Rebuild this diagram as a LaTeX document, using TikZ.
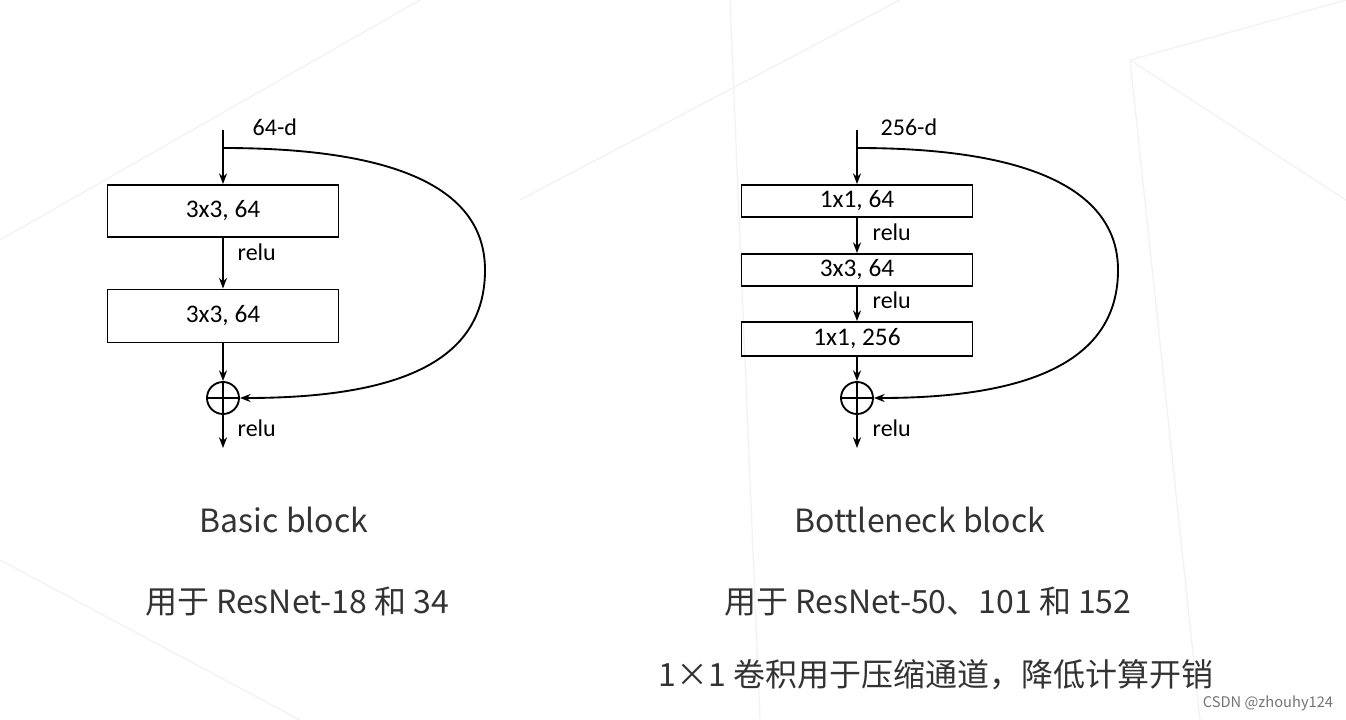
\documentclass[tikz,border=0pt]{standalone}
\usepackage{fontspec}
\setmainfont{Carlito}
\newfontfamily\cjk{Noto Sans CJK SC}
\usetikzlibrary{arrows.meta}
\begin{document}
\begin{tikzpicture}[x=0.75pt,y=-0.75pt,
 blk/.style={draw,line width=1.4pt,minimum width=231*0.75pt,inner sep=0pt,font=\fontsize{19}{22}\selectfont},
 arr/.style={-{Stealth[length=8pt,width=6pt]},line width=1.4pt},
 lbl/.style={font=\fontsize{18}{21}\selectfont,anchor=west},
 captxt/.style={font=\cjk\fontsize{24}{28}\selectfont,text=black!80}]
\useasboundingbox (0,0) rectangle (1346,720);
\draw[black!5,line width=1pt] (0,240)--(420,0) (520,200)--(900,0) (0,560)--(300,720) (1130,60)--(1346,200) (1130,60)--(1346,0) (1130,60)--(1200,720) (730,0)--(760,720);
% left
\coordinate (lt) at (223,130);
\coordinate (ls) at (223,148);
\node[blk,minimum height=52*0.75pt] (l1) at (223,211) {3x3, 64};
\node[blk,minimum height=53*0.75pt] (l2) at (223,316) {3x3, 64};
\node[draw,circle,line width=1.4pt,minimum size=32*0.75pt,inner sep=0pt] (lp) at (223,398) {};
\draw[line width=1.4pt] (lp.north)--(lp.south) (lp.west)--(lp.east);
\coordinate (le) at (223,448);
\draw[arr] (lt)--(l1);
\draw[arr] (l1)--(l2);
\draw[arr] (l2)--(lp);
\draw[arr] (lp)--(le);
\draw[arr] (ls) .. controls (420,148) and (485,200) .. (485,270) .. controls (485,350) and (420,398) .. (lp.east);
\node[lbl] at (248,127) {64-d};
\node[lbl] at (233,252) {relu};
\node[lbl] at (233,428) {relu};
% right
\coordinate (rt) at (857,130);
\coordinate (rs) at (857,148);
\node[blk,minimum height=32*0.75pt] (r1) at (857,201) {1x1, 64};
\node[blk,minimum height=32*0.75pt] (r2) at (857,270) {3x3, 64};
\node[blk,minimum height=34*0.75pt] (r3) at (857,339) {1x1, 256};
\node[draw,circle,line width=1.4pt,minimum size=32*0.75pt,inner sep=0pt] (rp) at (857,398) {};
\draw[line width=1.4pt] (rp.north)--(rp.south) (rp.west)--(rp.east);
\coordinate (re) at (857,448);
\draw[arr] (rt)--(r1);
\draw[arr] (r1)--(r2);
\draw[arr] (r2)--(r3);
\draw[arr] (r3)--(rp);
\draw[arr] (rp)--(re);
\draw[arr] (rs) .. controls (1050,148) and (1118,200) .. (1118,270) .. controls (1118,350) and (1050,398) .. (rp.east);
\node[lbl] at (876,127) {256-d};
\node[lbl] at (868,232) {relu};
\node[lbl] at (868,300) {relu};
\node[lbl] at (868,428) {relu};
% captions
\node[captxt] at (284,520) {Basic block};
\node[captxt] at (297,602) {用于 ResNet-18 和 34};
\node[captxt] at (920,520) {Bottleneck block};
\node[captxt] at (928,602) {用于 ResNet-50、101 和 152};
\node[captxt] at (936,675) {1×1 卷积用于压缩通道，降低计算开销};
\node[font=\cjk\fontsize{11}{13}\selectfont,text=black!55] at (1268,703) {CSDN @zhouhy124};
\end{tikzpicture}
\end{document}
